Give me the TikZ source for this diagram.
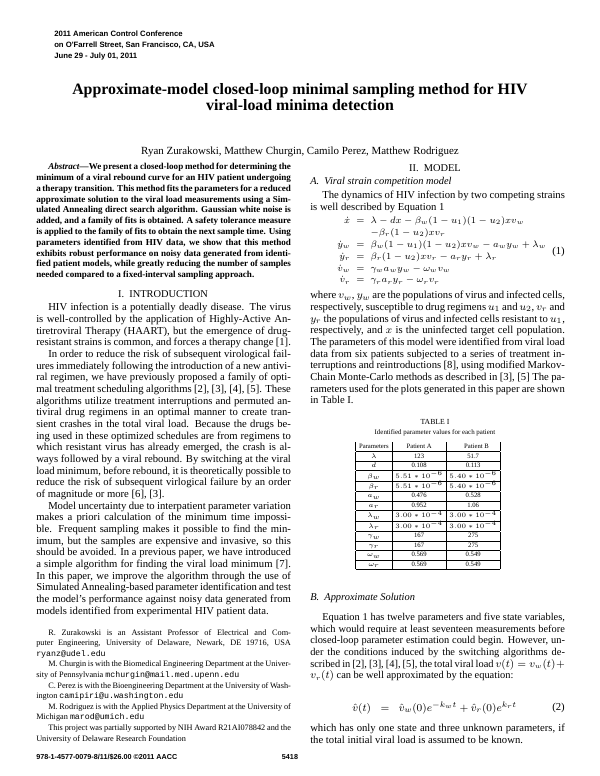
\documentclass[tikz,border=0pt]{standalone}
\usepackage{amsmath}
\usepackage{fontspec}
\setmainfont{Liberation Serif}
\setmonofont{Liberation Mono}
\newfontfamily\hsans{Liberation Sans}
\setlength\parskip{0pt}
\begin{document}
\begin{tikzpicture}[x=0.75pt,y=-0.75pt,
  body/.style={anchor=north west,inner sep=0pt,text width=191pt,align=justify,font=\fontsize{8}{8.75}\selectfont\setlength\parskip{0pt}},
  foot/.style={anchor=north west,inner sep=0pt,text width=191pt,align=justify,font=\fontsize{6.2}{7.95}\selectfont\setlength\parskip{0pt}},
  head/.style={inner sep=0pt,font=\fontsize{7.8}{9}\selectfont},
  sub/.style={anchor=west,inner sep=0pt,font=\fontsize{7.8}{9}\selectfont\itshape},
  hdr/.style={anchor=north west,inner sep=0pt,align=left,font=\hsans\bfseries\fontsize{5.8}{8}\selectfont}]
\useasboundingbox (0,0) rectangle (600,776);
\fill[white] (0,0) rectangle (600,776);
\newcommand\pin{\hspace*{9pt}}
\newcommand\cit[1]{[#1]}
% header
\node[hdr] (hdr) at (54,31) {2011 American Control Conference\\on O'Farrell Street, San Francisco, CA, USA\\June 29 - July 01, 2011};
\node[inner sep=0pt,align=center,font=\bfseries\fontsize{11.9}{12.2}\selectfont] (title) at (300,97) {Approximate-model closed-loop minimal sampling method for HIV\\viral-load minima detection};
\node[inner sep=0pt,font=\fontsize{8.2}{9}\selectfont] (auth) at (300,152) {Ryan Zurakowski, Matthew Churgin, Camilo Perez, Matthew Rodriguez};
% abstract
\node[body,font=\bfseries\fontsize{6.8}{8.1}\selectfont\setlength\parskip{0pt}] (abs) at (36,163) {\pin\textit{Abstract}---We present a closed-loop method for determining the minimum of a viral rebound curve for an HIV patient undergoing a therapy transition. This method fits the parameters for a reduced approximate solution to the viral load measurements using a Simulated Annealing direct search algorithm. Gaussian white noise is added, and a family of fits is obtained. A safety tolerance measure is applied to the family of fits to obtain the next sample time. Using parameters identified from HIV data, we show that this method exhibits robust performance on noisy data generated from identified patient models, while greatly reducing the number of samples needed compared to a fixed-interval sampling approach.};
\node[head] (intro) at (163,294) {I.\ \ INTRODUCTION};
\node[body] (introtext) at (36,303) {\pin HIV infection is a potentially deadly disease. The virus is well-controlled by the application of Highly-Active Antiretroviral Therapy (HAART), but the emergence of drug-resistant strains is common, and forces a therapy change \cit{1}.\par
\pin In order to reduce the risk of subsequent virological failures immediately following the introduction of a new antiviral regimen, we have previously proposed a family of optimal treatment scheduling algorithms \cit{2}, \cit{3}, \cit{4}, \cit{5}. These algorithms utilize treatment interruptions and permuted antiviral drug regimens in an optimal manner to create transient crashes in the total viral load. Because the drugs being used in these optimized schedules are from regimens to which resistant virus has already emerged, the crash is always followed by a viral rebound. By switching at the viral load minimum, before rebound, it is theoretically possible to reduce the risk of subsequent virlogical failure by an order of magnitude or more \cit{6}, \cit{3}.\par
\pin Model uncertainty due to interpatient parameter variation makes a priori calculation of the minimum time impossible. Frequent sampling makes it possible to find the minimum, but the samples are expensive and invasive, so this should be avoided. In a previous paper, we have introduced a simple algorithm for finding the viral load minimum \cit{7}. In this paper, we improve the algorithm through the use of Simulated Annealing-based parameter identification and test the model's performance against noisy data generated from models identified from experimental HIV patient data.};
% footnotes
\node[foot] (fn) at (36,629) {\pin R. Zurakowski is an Assistant Professor of Electrical and Computer Engineering, University of Delaware, Newark, DE 19716, USA {\ttfamily ryanz@udel.edu}\par
\pin M. Churgin is with the Biomedical Engineering Department at the University of Pennsylvania {\ttfamily mchurgin@mail.med.upenn.edu}\par
\pin C. Perez is with the Bioengineering Department at the University of Washington {\ttfamily camipiri@u.washington.edu}\par
\pin M. Rodriguez is with the Applied Physics Department at the University of Michigan {\ttfamily marod@umich.edu}\par
\pin This project was partially supported by NIH Award R21AI078842 and the University of Delaware Research Foundation};
\node[hdr,anchor=west,font=\hsans\bfseries\fontsize{5.4}{8}\selectfont] (foot) at (36,757) {978-1-4577-0079-8/11/\$26.00 \copyright2011 AACC};
\node[hdr,anchor=center,font=\hsans\bfseries\fontsize{5.4}{8}\selectfont] (page) at (290,757) {5418};
% right column
\node[head] (model) at (435,168) {II.\ \ MODEL};
\node[sub] (suba) at (310,182) {A.\ \ Viral strain competition model};
\node[body] (p1) at (310,191) {\pin The dynamics of HIV infection by two competing strains is well described by Equation 1};
\node[anchor=north west,inner sep=0pt,font=\fontsize{6.8}{8.9}\selectfont] (eq1) at (337,215) {$\begin{array}{@{}r@{\;\;}c@{\;\;}l@{}}
\dot x &=& \lambda - dx - \beta_w(1-u_1)(1-u_2)xv_w\\
&& -\beta_r(1-u_2)xv_r\\
\dot y_w &=& \beta_w(1-u_1)(1-u_2)xv_w - a_wy_w + \lambda_w\\
\dot y_r &=& \beta_r(1-u_2)xv_r - a_ry_r + \lambda_r\\
\dot v_w &=& \gamma_wa_wy_w - \omega_wv_w\\
\dot v_r &=& \gamma_ra_ry_r - \omega_rv_r
\end{array}$};
\node[anchor=east,inner sep=0pt,font=\fontsize{8}{9}\selectfont] (n1) at (565,252) {(1)};
\node[body] (p2) at (310,291) {where $v_w$, $y_w$ are the populations of virus and infected cells, respectively, susceptible to drug regimens $u_1$ and $u_2$, $v_r$ and $y_r$ the populations of virus and infected cells resistant to $u_1$, respectively, and $x$ is the uninfected target cell population. The parameters of this model were identified from viral load data from six patients subjected to a series of treatment interruptions and reintroductions \cit{8}, using modified Markov-Chain Monte-Carlo methods as described in \cit{3}, \cit{5} The parameters used for the plots generated in this paper are shown in Table I.};
\node[inner sep=0pt,font=\fontsize{5.8}{7}\selectfont] (tcap) at (435,422) {TABLE I};
\node[inner sep=0pt,font=\fontsize{5.2}{7}\selectfont] (tcap2) at (435,433) {I\textsc{dentified parameter values for each patient}};
\node[anchor=north,inner sep=0pt,font=\fontsize{5}{6.9}\selectfont] (tab) at (428,442) {\renewcommand{\arraystretch}{0.98}\setlength{\tabcolsep}{2.5pt}%
\begin{tabular}{|c|c|c|}
Parameters & \hspace{5pt}Patient A\hspace{5pt} & \hspace{5pt}Patient B\hspace{5pt}\\\hline
$\lambda$ & 123 & 51.7\\\hline
$d$ & 0.108 & 0.113\\\hline
$\beta_w$ & $5.51*10^{-6}$ & $5.40*10^{-6}$\\\hline
$\beta_r$ & $5.51*10^{-6}$ & $5.40*10^{-6}$\\\hline
$a_w$ & 0.476 & 0.528\\\hline
$a_r$ & 0.952 & 1.06\\\hline
$\lambda_w$ & $3.00*10^{-4}$ & $3.00*10^{-4}$\\\hline
$\lambda_r$ & $3.00*10^{-4}$ & $3.00*10^{-4}$\\\hline
$\gamma_w$ & 167 & 275\\\hline
$\gamma_r$ & 167 & 275\\\hline
$\omega_w$ & 0.569 & 0.549\\\hline
$\omega_r$ & 0.569 & 0.549\\\hline
\end{tabular}};
\node[sub] (subb) at (310,598) {B.\ \ Approximate Solution};
\node[body,font=\fontsize{7.8}{8.75}\selectfont\setlength\parskip{0pt}] (p3) at (310,613) {\pin Equation 1 has twelve parameters and five state variables, which would require at least seventeen measurements before closed-loop parameter estimation could begin. However, under the conditions induced by the switching algorithms described in \cit{2}, \cit{3}, \cit{4}, \cit{5}, the total viral load $v(t) = v_w(t)+v_r(t)$ can be well approximated by the equation:};
\node[anchor=west,inner sep=0pt,font=\fontsize{8}{9}\selectfont] (eq2) at (352,708) {$\hat v(t) \;\;=\;\; \hat v_w(0)e^{-k_wt} + \hat v_r(0)e^{k_rt}$};
\node[anchor=east,inner sep=0pt,font=\fontsize{8}{9}\selectfont] (n2) at (565,708) {(2)};
\node[body] (p4) at (310,724) {which has only one state and three unknown parameters, if the total initial viral load is assumed to be known.};
\end{tikzpicture}
\end{document}
